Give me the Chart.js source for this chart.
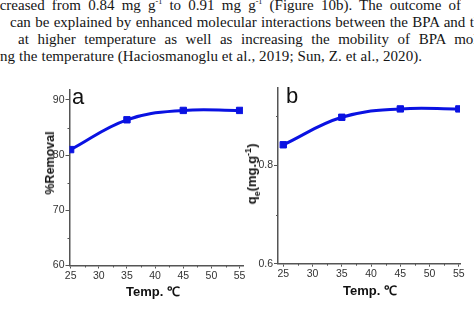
<!DOCTYPE html>
<html lang="en">
<head>
  <meta charset="UTF-8">
  <title>Effect of temperature on BPA removal</title>
  <script src="https://cdn.jsdelivr.net/npm/chart.js@4.4.3/dist/chart.umd.min.js"></script>
  <style>
    body { margin: 0; width: 474px; height: 323px; overflow: hidden; background: #fff; position: relative; }
    .txt { position: absolute; font-family: 'Liberation Serif', 'Times New Roman', serif; font-size: 15px; line-height: 17px; height: 17px; color: #151515; text-align: justify; text-align-last: justify; overflow: hidden; }
    .txt sup { font-size: 8px; line-height: 0; }
    .lbl { position: absolute; font-family: 'Liberation Sans', Arial, sans-serif; color: #111; white-space: nowrap; }
    .panel { font-size: 22px; line-height: 22px; }
    .axt { font-weight: 700; font-size: 13px; line-height: 14px; }
    .rot { transform: translate(-50%, -50%) rotate(-90deg); }
    .axt sub { font-size: 9px; line-height: 0; }
    .axt sup { font-size: 9px; line-height: 0; }
    .box { position: absolute; }
  </style>
</head>
<body>
  <div class="txt" style="left:-12px; top:-3px; width:473px;">increased from 0.84 mg g<sup>-1</sup> to 0.91 mg g<sup>-1</sup> (Figure 10b). The outcome of</div>
  <div class="txt" style="left:10px; top:14px; width:478px;">can be explained by enhanced molecular interactions between the BPA and the</div>
  <div class="txt" style="left:18px; top:31px; width:497px;">at higher temperature as well as increasing the mobility of BPA molecules</div>
  <div class="txt" style="left:0px; top:48px; width:480px; text-align:left; text-align-last:left; letter-spacing:0.08px;">ng the temperature (Haciosmanoglu et al., 2019; Sun, Z. et al., 2020).</div>

  <div class="box" style="left:0; top:80px;"><canvas id="chartA" width="250" height="205"></canvas></div>
  <div class="box" style="left:240px; top:80px;"><canvas id="chartB" width="234" height="205"></canvas></div>

  <div class="lbl panel" style="left:72px; top:86px;">a</div>
  <div class="lbl panel" style="left:286px; top:85px;">b</div>
  <div class="lbl axt rot" style="left:50px; top:163px; font-size:12.5px;">%Removal</div>
  <div class="lbl axt rot" style="left:252px; top:174px;">q<sub>e</sub>(mg.g<sup>-1</sup>)</div>
  <div class="lbl axt" style="left:153px; top:292px; transform:translate(-50%,-50%);">Temp. ℃</div>
  <div class="lbl axt" style="left:370px; top:291px; transform:translate(-50%,-50%);">Temp. ℃</div>

  <script>
    // data
    const temps = [25, 35, 45, 55];
    const removal = [81.0, 86.4, 88.1, 88.1];
    const qe = [0.842, 0.898, 0.915, 0.915];
    const tempTicks = [25, 30, 35, 40, 45, 50, 55];
    const removalTicks = [60, 70, 80, 90];
    const qeTicks = [0.6, 0.8];
    const tempMinor = [27.5, 32.5, 37.5, 42.5, 47.5, 52.5];
    const removalMinor = [65, 75, 85];
    const qeMinor = [0.7, 0.9];

    const blue = '#0a12e2';
    const axisColor = '#555';
    const tickFont = { family: "'Liberation Sans', Arial, sans-serif", size: 10.5 };

    // small ticks between the labelled ones
    const minorTicks = {
      id: 'minorTicks',
      afterDraw(chart, args, opts) {
        const { ctx, scales: { x, y } } = chart;
        ctx.save();
        ctx.strokeStyle = axisColor;
        ctx.lineWidth = 1;
        ctx.beginPath();
        opts.x.forEach(v => {
          const px = Math.round(x.getPixelForValue(v)) + 0.5;
          ctx.moveTo(px, x.top);
          ctx.lineTo(px, x.top + 2);
        });
        opts.y.forEach(v => {
          const py = Math.round(y.getPixelForValue(v)) + 0.5;
          ctx.moveTo(y.right - 2, py);
          ctx.lineTo(y.right, py);
        });
        ctx.stroke();
        ctx.restore();
      }
    };

    function makeChart(id, values, yCfg, xCfg, yWidth, xHeight, padding, yMinor) {
      const points = temps.map((t, i) => ({ x: t, y: values[i] }));
      return new Chart(document.getElementById(id), {
        type: 'line',
        data: {
          datasets: [{
            data: points,
            borderColor: blue,
            backgroundColor: blue,
            borderWidth: 3,
            tension: 0.4,
            pointStyle: 'rect',
            pointRadius: 4.5,
            pointBorderWidth: 1,
            pointBackgroundColor: blue,
            pointBorderColor: blue
          }]
        },
        options: {
          responsive: false,
          animation: false,
          devicePixelRatio: 1,
          layout: { padding: padding },
          plugins: {
            legend: { display: false },
            tooltip: { enabled: false },
            minorTicks: { x: tempMinor, y: yMinor }
          },
          scales: {
            x: {
              type: 'linear',
              min: xCfg.min,
              max: xCfg.max,
              afterFit: s => { s.height = xHeight; },
              afterBuildTicks: s => { s.ticks = tempTicks.map(v => ({ value: v })); },
              border: { color: axisColor, width: 1.5 },
              grid: { drawOnChartArea: false, tickLength: 3, tickColor: axisColor },
              ticks: { font: tickFont, color: '#333', padding: 1, maxRotation: 0 }
            },
            y: {
              min: yCfg.min,
              max: yCfg.max,
              afterFit: s => { s.width = yWidth; },
              afterBuildTicks: s => { s.ticks = yCfg.ticks.map(v => ({ value: v })); },
              border: { color: axisColor, width: 1.5 },
              grid: { drawOnChartArea: false, tickLength: 4, tickColor: axisColor },
              ticks: { font: tickFont, color: '#333', padding: 1, callback: yCfg.fmt }
            }
          }
        },
        plugins: [minorTicks]
      });
    }

    makeChart('chartA', removal,
      { min: 60, max: 91.8, ticks: removalTicks, fmt: v => String(v) },
      { min: 24.8, max: 55.6 },
      40, 19.5, { left: 29.5, top: 10, right: 7, bottom: 0 }, removalMinor);

    makeChart('chartB', qe,
      { min: 0.6, max: 0.959, ticks: qeTicks, fmt: v => v.toFixed(1) },
      { min: 24.1, max: 55.2 },
      30, 21.3, { left: 8, top: 7, right: 14, bottom: 0 }, qeMinor);
  </script>
</body>
</html>
